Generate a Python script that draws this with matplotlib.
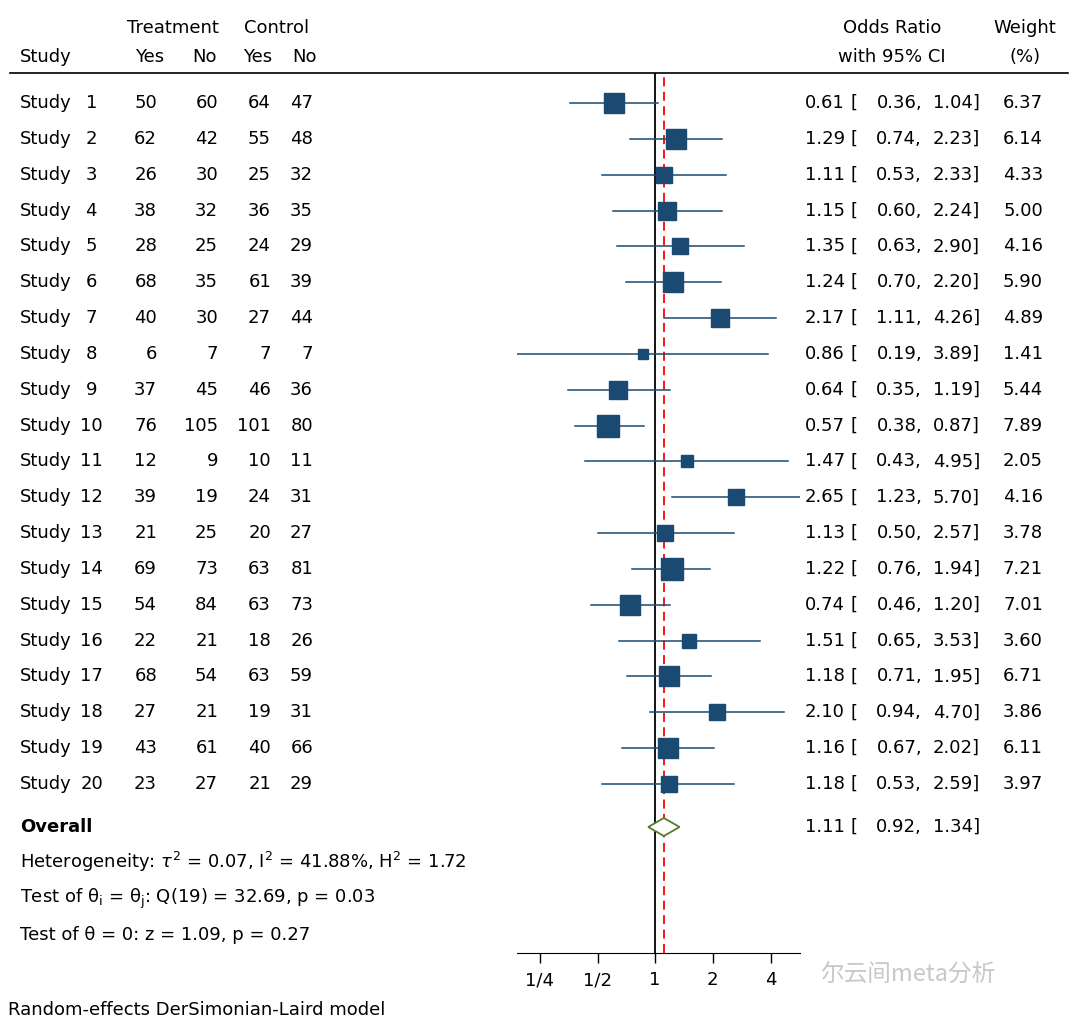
import matplotlib
matplotlib.use('Agg')
import matplotlib.pyplot as plt
import matplotlib.transforms as mtransforms
import numpy as np

study_nums = list(range(1, 21))
treat_yes = [50, 62, 26, 38, 28, 68, 40, 6, 37, 76, 12, 39, 21, 69, 54, 22, 68, 27, 43, 23]
treat_no = [60, 42, 30, 32, 25, 35, 30, 7, 45, 105, 9, 19, 25, 73, 84, 21, 54, 21, 61, 27]
ctrl_yes = [64, 55, 25, 36, 24, 61, 27, 7, 46, 101, 10, 24, 20, 63, 63, 18, 63, 19, 40, 21]
ctrl_no = [47, 48, 32, 35, 29, 39, 44, 7, 36, 80, 11, 31, 27, 81, 73, 26, 59, 31, 66, 29]
odds = [0.61, 1.29, 1.11, 1.15, 1.35, 1.24, 2.17, 0.86, 0.64, 0.57,
        1.47, 2.65, 1.13, 1.22, 0.74, 1.51, 1.18, 2.10, 1.16, 1.18]
ci_lo = [0.36, 0.74, 0.53, 0.60, 0.63, 0.70, 1.11, 0.19, 0.35, 0.38,
         0.43, 1.23, 0.50, 0.76, 0.46, 0.65, 0.71, 0.94, 0.67, 0.53]
ci_hi = [1.04, 2.23, 2.33, 2.24, 2.90, 2.20, 4.26, 3.89, 1.19, 0.87,
         4.95, 5.70, 2.57, 1.94, 1.20, 3.53, 1.95, 4.70, 2.02, 2.59]
weights = [6.37, 6.14, 4.33, 5.00, 4.16, 5.90, 4.89, 1.41, 5.44, 7.89,
           2.05, 4.16, 3.78, 7.21, 7.01, 3.60, 6.71, 3.86, 6.11, 3.97]
overall = (1.11, 0.92, 1.34)
tick_vals = [0.25, 0.5, 1, 2, 4]
tick_labels = ["1/4", "1/2", "1", "2", "4"]

W, H = 1080, 1026
fig = plt.figure(figsize=(W / 100, H / 100), dpi=100)
ax = fig.add_axes([517 / W, 1 - 953 / H, (800 - 517) / W, (953 - 73) / H])
ax.set_xscale('log', base=2)
ax.set_xlim(0.19, 5.70)
ax.set_ylim(953, 73)
for s in ['top', 'right', 'left']:
    ax.spines[s].set_visible(False)
ax.set_yticks([])
ax.set_xticks(tick_vals)
ax.set_xticklabels(tick_labels, fontsize=13)
ax.minorticks_off()
ax.tick_params(axis='x', length=7, width=1, pad=6)

blue = '#1a4a72'
row_y = [103 + 35.84 * i for i in range(len(study_nums))]
y_overall = 827

ax.axvline(1, color='black', lw=1.3)
ax.axvline(overall[0], color='red', lw=1.3, ls=(0, (5, 3)))

for y, o, lo, hi, w in zip(row_y, odds, ci_lo, ci_hi, weights):
    ax.plot([lo, hi], [y, y], color=blue, lw=1.1)
    ax.plot(o, y, marker='s', ms=7.9 * np.sqrt(w) * 0.72, color=blue, mec=blue)

o, lo, hi = overall
ax.fill([lo, o, hi, o], [y_overall, y_overall - 9, y_overall, y_overall + 9],
        facecolor='white', edgecolor='#5a7a2e', lw=1.3, zorder=3)

tr = mtransforms.blended_transform_factory(fig.transFigure, ax.transData)
fs = 13


def txt(xp, y, s, ha='left', **kw):
    fig.text(xp / W, y, s, transform=tr, ha=ha, va='center', fontsize=fs, **kw)


def ci_text(y, o, lo, hi):
    txt(845, y, f"{o:.2f}", ha='right')
    txt(851, y, "[")
    txt(922, y, f"{lo:.2f},", ha='right')
    txt(980, y, f"{hi:.2f}]", ha='right')


# header
hy1, hy2 = 28, 57
txt(173, hy1, "Treatment", ha='center')
txt(277, hy1, "Control", ha='center')
txt(20, hy2, "Study")
for xp, s in [(164, "Yes"), (217, "No"), (272, "Yes"), (317, "No")]:
    txt(xp, hy2, s, ha='right')
txt(892, hy1, "Odds Ratio", ha='center')
txt(892, hy2, "with 95% CI", ha='center')
txt(1025, hy1, "Weight", ha='center')
txt(1025, hy2, "(%)", ha='center')
fig.add_artist(plt.Line2D([10 / W, 1068 / W], [1 - 73 / H, 1 - 73 / H], color='black', lw=1.2))

for i, y in enumerate(row_y):
    txt(20, y, "Study")
    txt(97 if study_nums[i] < 10 else 103, y, str(study_nums[i]), ha='right')
    txt(157, y, str(treat_yes[i]), ha='right')
    txt(218, y, str(treat_no[i]), ha='right')
    txt(271, y, str(ctrl_yes[i]), ha='right')
    txt(313, y, str(ctrl_no[i]), ha='right')
    ci_text(y, odds[i], ci_lo[i], ci_hi[i])
    txt(1043, y, f"{weights[i]:.2f}", ha='right')

txt(20, y_overall, "Overall", fontweight='bold')
ci_text(y_overall, *overall)

txt(20, 862, r"Heterogeneity: $\tau^2$ = 0.07, I$^2$ = 41.88%, H$^2$ = 1.72")
txt(20, 899, r"Test of θ$_\mathregular{i}$ = θ$_\mathregular{j}$: Q(19) = 32.69, p = 0.03")
txt(20, 935, "Test of θ = 0: z = 1.09, p = 0.27")
fig.text(8 / W, 1 - 1010 / H, "Random-effects DerSimonian-Laird model",
         ha='left', va='center', fontsize=fs)
fig.text(820 / W, 1 - 975 / H, "尔云间meta分析", ha='left', va='center',
         fontsize=17, color='#c8c8c8',
         family=['Noto Sans CJK SC', 'Noto Sans CJK JP', 'Noto Sans CJK TC', 'DejaVu Sans'])

fig.savefig('out.png', dpi=100)
